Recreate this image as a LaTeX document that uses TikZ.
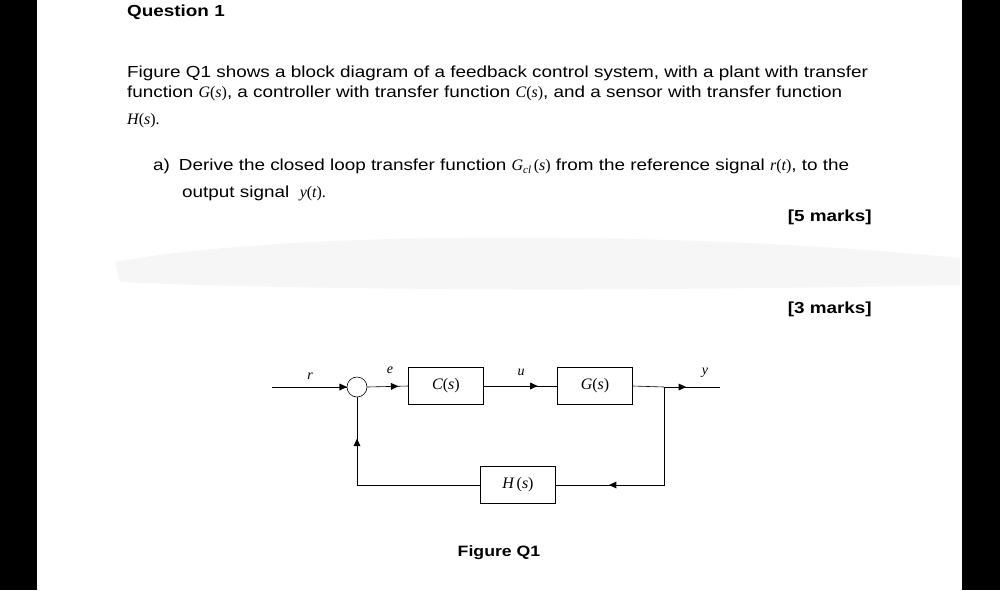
\documentclass[tikz,border=0pt]{standalone}
\usepackage{fontspec}
\setmainfont[FakeStretch=1.18]{Liberation Sans}
\newfontfamily\tms{Liberation Serif}
\usetikzlibrary{decorations.markings}
\newcommand{\tv}[1]{{\tms\itshape #1}}
\newcommand{\tr}[1]{{\tms #1}}
\begin{document}
\begin{tikzpicture}[x=1pt,y=-1pt,
 blk/.style={draw,line width=0.6pt,minimum width=75pt,minimum height=37pt,inner sep=0pt,font=\tms\fontsize{16}{16}\selectfont},
 sig/.style={line width=0.6pt},
 mid/.style={postaction={decorate},decoration={markings,mark=at position #1 with {\fill (2.5pt,0)--(-5pt,-3.5pt)--(-5pt,3.5pt)--cycle;}}},
 lbl/.style={font=\tms\itshape\fontsize{14}{14}\selectfont},
 txt/.style={anchor=base west,inner sep=0pt,font=\fontsize{16}{18}\selectfont}]
\useasboundingbox (0,0) rectangle (1000,590);
\fill[black] (0,0) rectangle (37,590);
\fill[black] (962,0) rectangle (1000,590);
\fill[gray!7] (115,262) .. controls (300,228) and (700,232) .. (960,258) -- (960,285) .. controls (600,292) and (300,290) .. (120,282) -- cycle;
\node[txt,font=\bfseries\fontsize{16}{18}\selectfont] (q) at (127,16) {Question 1};
\node[txt] (p1) at (127,77) {Figure Q1 shows a block diagram of a feedback control system, with a plant with transfer};
\node[txt] (p2) at (127,97) {function \tv{G}\tr{(}\tv{s}\tr{)}, a controller with transfer function \tv{C}\tr{(}\tv{s}\tr{)}, and a sensor with transfer function};
\node[txt] (p3) at (127,124) {\tv{H}\tr{(}\tv{s}\tr{).}};
\node[txt] (a1) at (153,170) {a)\hspace{9pt}Derive the closed loop transfer function \tv{G}\raisebox{-3pt}{\tms\itshape\fontsize{11}{11}\selectfont cl}\tr{\,(}\tv{s}\tr{)} from the reference signal \tv{r}\tr{(}\tv{t}\tr{)}, to the};
\node[txt] (a2) at (182,197) {output signal\ \ \tv{y}\tr{(}\tv{t}\tr{).}};
\node[txt,anchor=base east,font=\bfseries\fontsize{16}{18}\selectfont] (m5) at (872,221) {[5 marks]};
\node[txt,anchor=base east,font=\bfseries\fontsize{16}{18}\selectfont] (m3) at (872,313) {[3 marks]};
\node[txt,anchor=base,font=\bfseries\fontsize{15}{18}\selectfont] (fig) at (499,556) {Figure Q1};
% diagram
\coordinate (rin) at (272,387);
\node[draw,circle,line width=0.6pt,minimum size=20pt,inner sep=0pt] (sum) at (357,387) {};
\node[blk] (C) at (446,386) {\tv{C}(\tv{s})};
\node[blk] (G) at (595,386) {\tv{G}(\tv{s})};
\node[blk] (H) at (518,485) {\tv{H}\,(\tv{s})};
\coordinate (br) at (664,387);
\coordinate (yout) at (720,387);
\coordinate (brd) at (664,485);
\coordinate (fl) at (357,485);
\draw[sig,mid=0.97] (rin) -- (sum.west);
\draw[sig,mid=0.7] (sum.east) -- (C.west);
\draw[sig,mid=0.7] (C.east) -- (G.west);
\draw[sig] (G.east) -- (br);
\draw[sig,mid=0.35] (br) -- (yout);
\draw[sig,mid=0.73] (br) -- (brd) -- (H.east);
\draw[sig] (H.west) -- (fl);
\draw[sig,mid=0.5] (fl) -- (sum.south);
\node[lbl] (lr) at (310,376) {r};
\node[lbl] (le) at (390,370) {e};
\node[lbl] (lu) at (521,372) {u};
\node[lbl] (ly) at (705,373) {y};
\end{tikzpicture}
\end{document}
